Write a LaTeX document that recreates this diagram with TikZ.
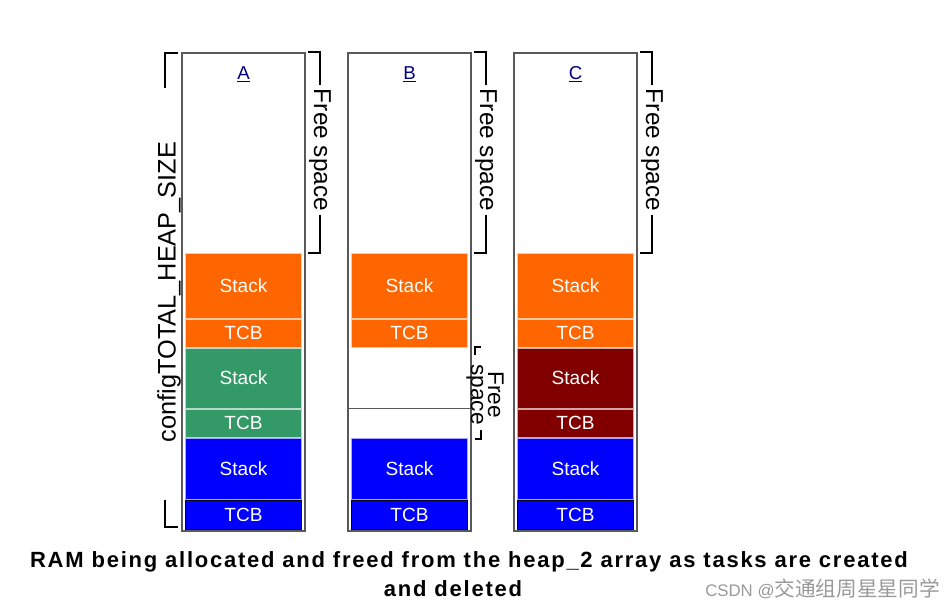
\documentclass[tikz,border=0pt]{standalone}
\usepackage{fontspec}
\setmainfont{Liberation Sans}
\newfontfamily\cjk{Noto Sans CJK SC}
\usetikzlibrary{positioning}
\definecolor{orng}{HTML}{FF6600}
\definecolor{grn}{HTML}{339966}
\definecolor{blu}{HTML}{0000FF}
\definecolor{drd}{HTML}{800000}
\definecolor{lnk}{HTML}{000080}

\begin{document}
\begin{tikzpicture}[x=0.75pt, y=-0.75pt,
  heap/.style={draw=gray!70!black, line width=0.9pt, minimum width=92.25pt,
    minimum height=358.5pt, inner sep=0pt},
  blk/.style={draw=#1!35!white, fill=#1, line width=0.6pt, text=white,
    font=\fontsize{14.3}{16}\selectfont, minimum width=87pt, inner sep=0pt},
  stk/.style={blk=#1, minimum height=45pt},
  tcb/.style={blk=#1, minimum height=21pt},
  lbl/.style={text=lnk, font=\fontsize{14}{16}\selectfont, inner sep=0pt},
  free/.style={rotate=-90, font=\fontsize{18.3}{20}\selectfont, inner sep=2.5pt},
  brk/.style={line width=1.4pt}]

\useasboundingbox (0,0) rectangle (950,608);

% the three heaps
\foreach \c/\x in {A/243.5,B/409.5,C/575.5}{
  \node[heap] (\c) at (\x,292) {};
  \node[lbl] (\c-lbl) at (\x,74.5) {\underline{\c}};
  \node[stk=orng, minimum height=48.75pt] (\c-s1) at (\x,285.5) {Stack};
  \node[tcb=orng] (\c-t1) at (\x,333) {TCB};
  \node[stk=blu, minimum height=45.75pt] (\c-s3) at (\x,468.5) {Stack};
  \node[tcb=blu, draw=black, minimum height=21.75pt] (\c-t3) at (\x,514.5) {TCB};
  \node[free] (\c-free) at (\x+76.5,150) {Free space};
  \draw[brk] (\c-free.west) -- (\c-free.west |- \c.north) -- ++(-12,0);
  \draw[brk] (\c-free.east) -- (\c-free.east |- \c-s1.north) -- ++(-12,0);
}

% middle task
\node[stk=grn] (A-s2) at (243.5,378) {Stack};
\node[tcb=grn] (A-t2) at (243.5,423) {TCB};
\node[stk=drd] (C-s2) at (575.5,378) {Stack};
\node[tcb=drd] (C-t2) at (575.5,423) {TCB};

% deleted task in B
\coordinate (B-cut) at (409.5,408.5);
\draw[gray!70!black, line width=0.8pt] (B.west |- B-cut) -- (B.east |- B-cut);
\node[free, align=center, font=\fontsize{17}{12.75}\selectfont, inner sep=0pt]
  (B-gap) at (485,394.5) {Free\\space};
\draw[line width=1pt] (481,347) -- (475,347) -- (475,355);
\draw[line width=1pt] (475,439) -- (481,439) -- (481,430);

% total size
\node[rotate=90, font=\fontsize{19}{22}\selectfont, inner sep=0pt] (cfg) at (169,292)
  {configTOTAL\_HEAP\_SIZE};
\draw[brk] (178,53) -- (165,53) -- (165,88);
\draw[brk] (165,500) -- (165,527) -- (178,527);

% caption
\node[font={\fontsize{16.5}{20}\bfseries\addfontfeature{LetterSpace=8}}, inner sep=0pt]
  (cap1) at (469,562) {RAM being allocated and freed from the heap\_2 array as tasks are created};
\node[font={\fontsize{16.5}{20}\bfseries\addfontfeature{LetterSpace=8}}, inner sep=0pt]
  (cap2) at (453,589) {and deleted};
\node[anchor=west, text=gray!80, inner sep=0pt] (wm) at (705,589)
  {\fontsize{12.6}{14}\selectfont CSDN @\cjk\fontsize{15.5}{18}\selectfont 交通组周星星同学};
\end{tikzpicture}
\end{document}
